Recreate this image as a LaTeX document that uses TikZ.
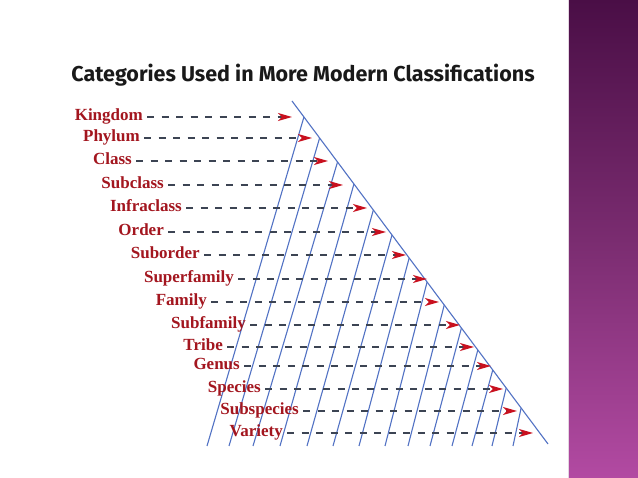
\documentclass[tikz,border=0pt]{standalone}
\usepackage{fontspec}
\setmainfont{Liberation Serif}
\newfontfamily\titlefont{Fira Sans}
\usetikzlibrary{arrows.meta,calc}
\definecolor{labred}{HTML}{A3161F}
\definecolor{arrred}{HTML}{C8101E}
\definecolor{lineblue}{HTML}{5272C4}
\definecolor{dashgray}{HTML}{3C4453}
\definecolor{bartop}{HTML}{4A0E46}
\definecolor{barmid}{HTML}{7A2C70}
\definecolor{barbot}{HTML}{B24AA2}
\tikzset{
  lab/.style={font=\fontsize{17}{17}\selectfont\bfseries, text=labred, inner sep=0pt},
  rowline/.style={draw=dashgray, line width=1.4pt, dash pattern=on 7pt off 7.5pt,
    -{Stealth[length=14pt,width=8pt,inset=4pt,fill=arrred,color=arrred]}},
  slant/.style={draw=lineblue, line width=1.1pt},
  titletext/.style={font=\titlefont\bfseries\fontsize{21.5}{21.5}\selectfont, text=black!90, inner sep=0pt}
}
\begin{document}
\begin{tikzpicture}[x=1pt,y=-1pt]
\useasboundingbox (0,0) rectangle (638,478);
\fill[white] (0,0) rectangle (638,478);
% purple bar
\shade[top color=bartop, bottom color=barbot, middle color=barmid] (568,0) rectangle (638,478);
\draw[white!80!barmid, line width=0.8pt] (568.4,0) -- (568.4,478);
% title
\node[titletext] (title) at (303,75) {Categories Used in More Modern Classifications};
% hypotenuse
\coordinate (H1) at (292,101);
\coordinate (H2) at (548,444);
\draw[slant] (H1) -- (H2);
% slanted lines
\foreach \i/\ty/\bx in {1/117/207, 2/138/229, 3/162/253, 4/184/280, 5/210/307,
  6/235/333, 7/258/359, 8/282/385, 9/305/408, 10/328/430, 11/350/452,
  12/370/472, 13/388/492, 14/408/513}{
  \coordinate (top\i) at ($(H1)!{(\ty-101)/343}!(H2)$);
  \coordinate (bot\i) at (\bx,446);
  \draw[slant] (bot\i) -- (top\i);
}
% labels and dashed arrows
\foreach \i/\t/\x/\y/\a in {1/Kingdom/143/117/292, 2/Phylum/140/138/312,
  3/Class/132/161/328, 4/Subclass/164/185/343, 5/Infraclass/182/208/367,
  6/Order/164/232/386, 7/Suborder/200/255/406, 8/Superfamily/234/279/427,
  9/Family/207/302/439, 10/Subfamily/246/325/460, 11/Tribe/223/347/474,
  12/Genus/240/366/491, 13/Species/261/389/503, 14/Subspecies/299/411/517,
  15/Variety/283/433/533}{
  \node[lab, anchor=base east] (l\i) at (\x,\y+4) {\t};
  \coordinate (a\i) at (\a,\y);
  \draw[rowline] ([xshift=4pt]l\i.east |- a\i) -- (a\i);
}
\end{tikzpicture}
\end{document}
